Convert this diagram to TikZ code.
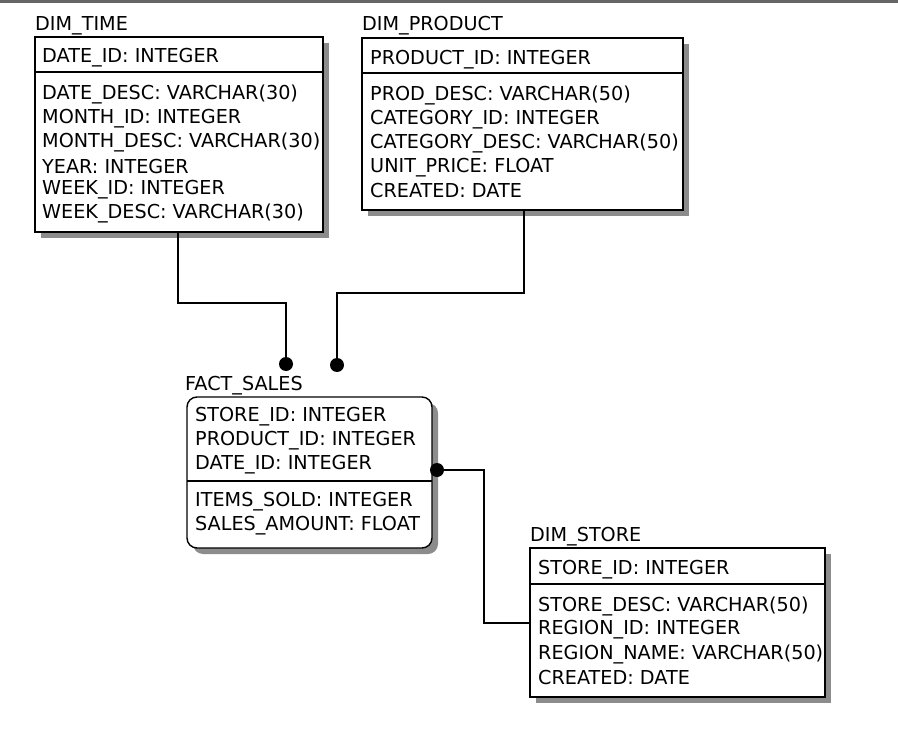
\documentclass[tikz,border=0pt]{standalone}
\usepackage{fontspec}
\setmainfont{DejaVu Sans}
\newfontfamily\erfont[Scale=1.0]{DejaVu Sans}
\begin{document}
\begin{tikzpicture}[x=1pt,y=-1pt,
  box/.style={draw=black,line width=1.4pt,fill=white},
  shadow/.style={fill=black!45},
  txt/.style={anchor=west,inner sep=0pt,yshift=-3pt,font=\erfont\fontsize{19.2pt}{21pt}\selectfont},
  ttl/.style={anchor=south west,inner sep=0pt,yshift=-1pt,font=\erfont\fontsize{19.2pt}{21pt}\selectfont},
  conn/.style={line width=1.2pt},
  dot/.style={circle,fill=black,inner sep=0pt,minimum size=14pt}]
\useasboundingbox (0,0) rectangle (898,744);
\fill[black!60] (0,0) rectangle (898,3);
% shadows
\fill[shadow] (41,43) rectangle (329,238);
\fill[shadow] (368,44) rectangle (689,216);
\fill[shadow,rounded corners=10pt] (193,403) rectangle (438,554);
\fill[shadow] (536,554) rectangle (831,703);
% DIM_TIME
\node[ttl] at (35,34) {DIM\_TIME};
\draw[box] (35,37) rectangle (323,232);
\coordinate (time) at (178,232);
\draw[line width=1.2pt] (35,72) -- (323,72);
\node[txt] at (42,55) {DATE\_ID: INTEGER};
\foreach \t [count=\i] in {DATE\_DESC: VARCHAR(30),MONTH\_ID: INTEGER,MONTH\_DESC: VARCHAR(30),YEAR: INTEGER,WEEK\_ID: INTEGER,WEEK\_DESC: VARCHAR(30)}
  \node[txt] at (42,68+\i*23.8) {\t};
% DIM_PRODUCT
\node[ttl] at (362,34) {DIM\_PRODUCT};
\draw[box] (362,38) rectangle (683,210);
\coordinate (prod) at (524,210);
\draw[line width=1.2pt] (362,73) -- (683,73);
\node[txt] at (370,57) {PRODUCT\_ID: INTEGER};
\foreach \t [count=\i] in {PROD\_DESC: VARCHAR(50),CATEGORY\_ID: INTEGER,CATEGORY\_DESC: VARCHAR(50),UNIT\_PRICE: FLOAT,CREATED: DATE}
  \node[txt] at (370,69+\i*23.8) {\t};
% FACT_SALES
\node[ttl] at (185,394) {FACT\_SALES};
\draw[box,rounded corners=10pt] (187,397) rectangle (432,548);
\draw[line width=1.2pt] (187,481) -- (432,481);
\node[txt] at (195,414) {STORE\_ID: INTEGER};
\node[txt] at (195,438) {PRODUCT\_ID: INTEGER};
\node[txt] at (195,462) {DATE\_ID: INTEGER};
\node[txt] at (195,499) {ITEMS\_SOLD: INTEGER};
\node[txt] at (195,523) {SALES\_AMOUNT: FLOAT};
% DIM_STORE
\node[ttl] at (530,545) {DIM\_STORE};
\draw[box] (530,548) rectangle (825,697);
\coordinate (store) at (530,623);
\draw[line width=1.2pt] (530,584) -- (825,584);
\node[txt] at (538,567) {STORE\_ID: INTEGER};
\foreach \t [count=\i] in {STORE\_DESC: VARCHAR(50),REGION\_ID: INTEGER,REGION\_NAME: VARCHAR(50),CREATED: DATE}
  \node[txt] at (538,579+\i*24) {\t};
% connectors
\node[dot] (d1) at (286,364) {};
\node[dot] (d2) at (337,365) {};
\node[dot] (d3) at (437,470) {};
\draw[conn] (time) -- (178,303) -| (d1.center);
\draw[conn] (prod) -- (524,293) -| (d2.center);
\draw[conn] (d3.center) -| (484,623) -- (store);
\end{tikzpicture}
\end{document}
